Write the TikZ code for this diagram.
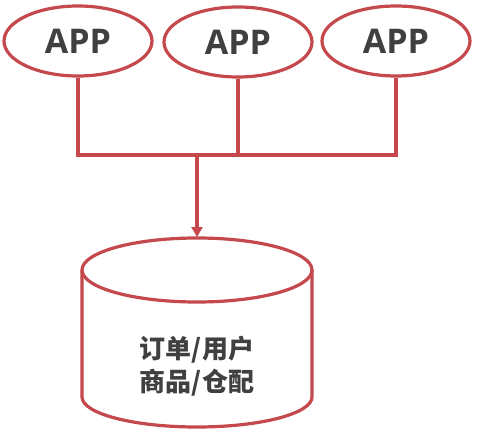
\documentclass[tikz,border=0pt]{standalone}
\usepackage{fontspec}
\setmainfont{Open Sans}
\newfontfamily\cjk{Noto Sans CJK SC}
\usepackage{tikz}
\usetikzlibrary{positioning}
\usetikzlibrary{arrows.meta}
\usetikzlibrary{shapes.geometric}
\definecolor{appred}{RGB}{196,72,76}
\definecolor{textgray}{HTML}{404040}
\tikzset {
  x=1pt, y=-1pt,
  % client ellipses
  app/.style = {draw=appred, line width=3.2pt, ellipse, minimum width=148pt, minimum height=70pt,
    inner sep=0pt, text=textgray, font=\fontsize{34}{34}\selectfont\bfseries},
  % database cylinder
  store/.style = {draw=appred, line width=3.2pt},
  storetext/.style = {text=textgray, align=center, font=\cjk\fontsize{26}{33}\selectfont\bfseries},
  % connecting lines
  wire/.style = {appred, line width=3.2pt},
}
\begin{document}
\begin{tikzpicture}
        \useasboundingbox (0,0) rectangle (478,438);
        \node[app] (app1) at (78,41) {APP};
        \node[app] (app2) at (238,42) {APP};
        \node[app] (app3) at (396,41) {APP};

        % the cylinder
        \draw [store] (197,270) ellipse [x radius=115, y radius=32];
        \draw [store] (82,270) -- (82,397) arc [start angle=180, end angle=0, x radius=115, y radius=30] -- (312,270);
        \coordinate (dbtop) at (197,237);
        \node[storetext] (dbtext) at (197,366) {订单/用户\\商品/仓配};

        \coordinate (bus) at (197,155);
        \draw [wire] (app1.south) |- (bus) -| (app3.south);
        \draw [wire] (app2.south) -- (app2 |- bus);
        \draw [wire, -{Triangle[length=10pt, width=11pt]}] (bus) -- (dbtop);
      \end{tikzpicture}
\end{document}
